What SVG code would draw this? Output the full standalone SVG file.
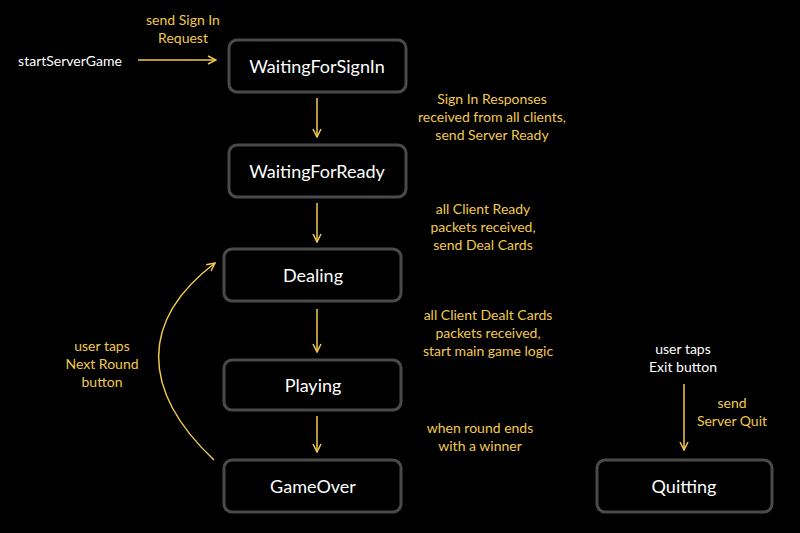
<svg xmlns="http://www.w3.org/2000/svg" width="800" height="533" viewBox="0 0 800 533">
<style>
text{font-family:Lato,"Open Sans",sans-serif;text-anchor:middle}
.n{fill:#000;stroke:#4a4a4a;stroke-width:3}
.nt{fill:#fff;font-size:18px}
.w{fill:#fff;font-size:14px}
.y{fill:#f2c94c;font-size:14px}
.c{fill:none;stroke:#f2c94c;stroke-width:1.5}
</style>
<defs><marker id="a" viewBox="0 0 10 10" refX="9" refY="5" markerWidth="10" markerHeight="10" markerUnits="userSpaceOnUse" orient="auto"><path d="M1,1 L9,5 L1,9" fill="none" stroke="#f2c94c" stroke-width="1.5"/></marker></defs>
<rect width="800" height="533" fill="#000"/>
<g id="WaitingForSignIn"><rect class="n" x="229" y="40" width="177" height="52" rx="8"/><text class="nt" x="317" y="73">WaitingForSignIn</text></g>
<g id="WaitingForReady"><rect class="n" x="229" y="145" width="177" height="52" rx="8"/><text class="nt" x="317" y="178">WaitingForReady</text></g>
<g id="Dealing"><rect class="n" x="224" y="249" width="177" height="52" rx="8"/><text class="nt" x="313" y="282">Dealing</text></g>
<g id="Playing"><rect class="n" x="224" y="360" width="177" height="50" rx="8"/><text class="nt" x="313" y="392">Playing</text></g>
<g id="GameOver"><rect class="n" x="224" y="460" width="177" height="52" rx="8"/><text class="nt" x="313" y="493">GameOver</text></g>
<g id="Quitting"><rect class="n" x="597" y="460" width="175" height="52" rx="8"/><text class="nt" x="684" y="493">Quitting</text></g>
<g id="connectors">
<path class="c" d="M138,60 L216,60" marker-end="url(#a)"/>
<path class="c" d="M317,98 L317,137" marker-end="url(#a)"/>
<path class="c" d="M317,203 L317,242" marker-end="url(#a)"/>
<path class="c" d="M317,309 L317,352" marker-end="url(#a)"/>
<path class="c" d="M317,416 L317,452" marker-end="url(#a)"/>
<path class="c" d="M214,460 C140,390 140,320 215,263" marker-end="url(#a)"/>
<path class="c" d="M684,384 L684,450" marker-end="url(#a)"/>
</g>
<g id="labels">
<text class="w" x="70" y="66">startServerGame</text>
<text class="y" x="183" y="25">send Sign In</text><text class="y" x="183" y="43">Request</text>
<text class="y" x="492" y="104">Sign In Responses</text><text class="y" x="492" y="122">received from all clients,</text><text class="y" x="492" y="140">send Server Ready</text>
<text class="y" x="483" y="214">all Client Ready</text><text class="y" x="483" y="232">packets received,</text><text class="y" x="483" y="250">send Deal Cards</text>
<text class="y" x="488" y="320">all Client Dealt Cards</text><text class="y" x="488" y="338">packets received,</text><text class="y" x="488" y="356">start main game logic</text>
<text class="y" x="480" y="433">when round ends</text><text class="y" x="480" y="451">with a winner</text>
<text class="y" x="102" y="351">user taps</text><text class="y" x="102" y="369">Next Round</text><text class="y" x="102" y="387">button</text>
<text class="w" x="683" y="354">user taps</text><text class="w" x="683" y="372">Exit button</text>
<text class="y" x="732" y="408">send</text><text class="y" x="732" y="426">Server Quit</text>
</g>
</svg>
